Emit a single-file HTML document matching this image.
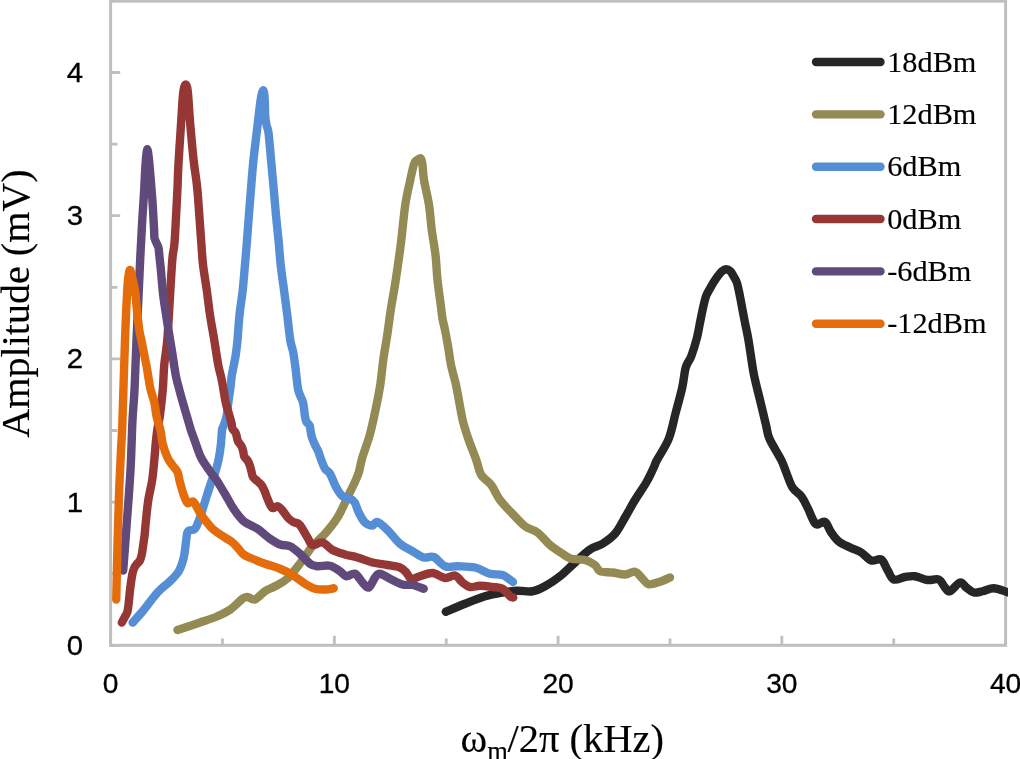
<!DOCTYPE html>
<html lang="en"><head><meta charset="utf-8"><title>Amplitude vs modulation frequency</title>
<style>html,body{margin:0;padding:0;background:#fff;}body{width:1020px;height:759px;overflow:hidden;}svg{display:block;}.tick{font-family:"Liberation Sans","DejaVu Sans",sans-serif;font-size:28.2px;fill:#000;stroke:#000;stroke-width:0.3px;}.ser{font-family:"Liberation Serif","DejaVu Serif",serif;fill:#000;stroke:#000;stroke-width:0.15px;}</style></head><body>
<svg width="1020" height="759" viewBox="0 0 1020 759">
<rect x="0" y="0" width="1020" height="759" fill="#fff"/>
<rect x="110.60" y="1.20" width="895.00" height="644.10" fill="none" stroke="#BFBFBF" stroke-width="3"/>
<path d="M110.60 645.30V635.70M222.47 645.30V638.50M334.35 645.30V635.70M446.23 645.30V638.50M558.10 645.30V635.70M669.98 645.30V638.50M781.85 645.30V635.70M893.73 645.30V638.50M1005.60 645.30V635.70M110.60 645.30H120.20M110.60 573.70H117.40M110.60 502.10H120.20M110.60 430.50H117.40M110.60 358.90H120.20M110.60 287.30H117.40M110.60 215.70H120.20M110.60 144.10H117.40M110.60 72.50H120.20" fill="none" stroke="#BFBFBF" stroke-width="2.8"/>
<defs><clipPath id="cp"><rect x="0" y="0" width="1008" height="759"/></clipPath></defs>
<g fill="none" stroke-width="8.4" stroke-linejoin="round">
<path stroke="#262626" stroke-linecap="round" clip-path="url(#cp)" d="M445.75 611.75C448.96 610.42 458.46 606.33 465.00 603.75C471.54 601.17 478.75 598.12 485.00 596.25C491.25 594.38 497.08 593.42 502.50 592.50C507.92 591.58 512.50 590.96 517.50 590.75C522.50 590.54 527.92 592.00 532.50 591.25C537.08 590.50 540.42 588.75 545.00 586.25C549.58 583.75 555.00 580.21 560.00 576.25C565.00 572.29 570.00 566.96 575.00 562.50C580.00 558.04 585.42 552.62 590.00 549.50C594.58 546.38 598.33 546.38 602.50 543.75C606.67 541.12 611.25 538.12 615.00 533.75C618.75 529.38 621.67 523.12 625.00 517.50C628.33 511.88 631.46 505.83 635.00 500.00C638.54 494.17 643.12 487.92 646.25 482.50C649.38 477.08 651.96 471.25 653.75 467.50C655.54 463.75 654.50 464.79 657.00 460.00C659.50 455.21 665.62 446.67 668.75 438.75C671.88 430.83 673.50 421.04 675.75 412.50C678.00 403.96 680.58 395.00 682.25 387.50C683.92 380.00 684.25 372.71 685.75 367.50C687.25 362.29 689.39 361.17 691.25 356.25C693.11 351.33 695.49 343.34 696.90 338.00C698.31 332.66 698.77 328.82 699.70 324.20C700.63 319.58 701.47 314.92 702.50 310.30C703.53 305.68 704.75 299.95 705.90 296.50C707.05 293.05 708.17 291.90 709.40 289.60C710.63 287.30 711.85 285.01 713.30 282.70C714.75 280.39 716.65 277.65 718.10 275.75C719.55 273.85 720.67 272.38 722.00 271.30C723.33 270.22 724.72 269.27 726.10 269.25C727.48 269.23 729.10 270.12 730.30 271.20C731.50 272.28 732.20 273.83 733.30 275.75C734.40 277.67 735.78 279.24 736.90 282.70C738.02 286.16 739.05 291.90 740.00 296.50C740.95 301.10 741.72 305.68 742.60 310.30C743.48 314.92 744.38 319.58 745.30 324.20C746.22 328.82 747.27 333.40 748.10 338.00C748.93 342.60 749.32 345.63 750.30 351.80C751.28 357.97 752.38 366.97 754.00 375.00C755.62 383.03 758.00 391.67 760.00 400.00C762.00 408.33 764.42 418.54 766.00 425.00C767.58 431.46 766.96 432.92 769.50 438.75C772.04 444.58 778.46 454.38 781.25 460.00C784.04 465.62 784.38 467.92 786.25 472.50C788.12 477.08 790.00 483.54 792.50 487.50C795.00 491.46 798.75 492.92 801.25 496.25C803.75 499.58 805.42 503.33 807.50 507.50C809.58 511.67 812.08 518.42 813.75 521.25C815.42 524.08 815.62 524.38 817.50 524.50C819.38 524.62 822.71 520.67 825.00 522.00C827.29 523.33 828.96 529.25 831.25 532.50C833.54 535.75 835.62 539.00 838.75 541.50C841.88 544.00 846.25 545.67 850.00 547.50C853.75 549.33 857.71 550.33 861.25 552.50C864.79 554.67 867.92 559.33 871.25 560.50C874.58 561.67 878.54 557.92 881.25 559.50C883.96 561.08 885.42 566.67 887.50 570.00C889.58 573.33 890.83 578.33 893.75 579.50C896.67 580.67 901.46 577.54 905.00 577.00C908.54 576.46 911.25 575.75 915.00 576.25C918.75 576.75 923.54 579.46 927.50 580.00C931.46 580.54 935.83 578.25 938.75 579.50C941.67 580.75 943.12 585.54 945.00 587.50C946.88 589.46 947.50 592.08 950.00 591.25C952.50 590.42 957.29 583.12 960.00 582.50C962.71 581.88 963.96 585.83 966.25 587.50C968.54 589.17 971.04 591.88 973.75 592.50C976.46 593.12 979.17 591.96 982.50 591.25C985.83 590.54 989.79 588.17 993.75 588.25C997.71 588.33 1003.21 590.88 1006.25 591.75C1009.29 592.62 1011.04 593.21 1012.00 593.50"/>
<path stroke="#948A54" stroke-linecap="round" d="M177.50 630.00C181.25 628.75 193.33 624.79 200.00 622.50C206.67 620.21 212.50 618.37 217.50 616.25C222.50 614.13 225.83 612.72 230.00 609.80C234.17 606.88 239.58 600.88 242.50 598.75C245.42 596.62 245.42 596.88 247.50 597.00C249.58 597.12 252.08 600.46 255.00 599.50C257.92 598.54 261.67 593.46 265.00 591.25C268.33 589.04 271.25 588.38 275.00 586.25C278.75 584.12 283.33 582.29 287.50 578.50C291.67 574.71 295.83 568.92 300.00 563.50C304.17 558.08 308.33 550.96 312.50 546.00C316.67 541.04 320.83 538.50 325.00 533.75C329.17 529.00 333.96 523.12 337.50 517.50C341.04 511.88 343.58 505.42 346.25 500.00C348.92 494.58 351.91 488.33 353.50 485.00C355.09 481.67 354.88 482.20 355.80 480.00C356.72 477.80 357.93 475.47 359.00 471.80C360.07 468.13 360.41 464.13 362.20 458.00C363.99 451.87 367.53 443.00 369.75 435.00C371.97 427.00 373.75 418.33 375.50 410.00C377.25 401.67 378.96 393.33 380.25 385.00C381.54 376.67 382.08 368.33 383.25 360.00C384.42 351.67 386.00 343.33 387.25 335.00C388.50 326.67 389.33 319.17 390.75 310.00C392.17 300.83 394.04 291.25 395.75 280.00C397.46 268.75 399.42 255.00 401.00 242.50C402.58 230.00 403.71 215.42 405.25 205.00C406.79 194.58 408.79 186.83 410.25 180.00C411.71 173.17 412.96 167.25 414.00 164.00C415.04 160.75 415.38 161.46 416.50 160.50C417.62 159.54 419.75 157.50 420.75 158.25C421.75 159.00 421.96 161.38 422.50 165.00C423.04 168.62 422.92 173.33 424.00 180.00C425.08 186.67 427.71 196.67 429.00 205.00C430.29 213.33 430.67 221.67 431.75 230.00C432.83 238.33 434.54 246.67 435.50 255.00C436.46 263.33 436.62 271.67 437.50 280.00C438.38 288.33 439.92 298.54 440.75 305.00C441.58 311.46 441.79 314.58 442.50 318.75C443.21 322.92 444.04 325.21 445.00 330.00C445.96 334.79 447.25 341.67 448.25 347.50C449.25 353.33 449.71 358.75 451.00 365.00C452.29 371.25 454.54 378.33 456.00 385.00C457.46 391.67 458.54 398.75 459.75 405.00C460.96 411.25 461.75 416.67 463.25 422.50C464.75 428.33 466.58 433.75 468.75 440.00C470.92 446.25 474.17 454.17 476.25 460.00C478.33 465.83 478.75 470.83 481.25 475.00C483.75 479.17 488.12 480.83 491.25 485.00C494.38 489.17 496.46 495.21 500.00 500.00C503.54 504.79 508.33 509.38 512.50 513.75C516.67 518.12 520.83 523.12 525.00 526.25C529.17 529.38 533.33 529.38 537.50 532.50C541.67 535.62 545.83 541.46 550.00 545.00C554.17 548.54 558.96 551.46 562.50 553.75C566.04 556.04 567.50 557.71 571.25 558.75C575.00 559.79 581.04 558.96 585.00 560.00C588.96 561.04 592.50 563.12 595.00 565.00C597.50 566.88 597.08 570.00 600.00 571.25C602.92 572.50 608.33 571.96 612.50 572.50C616.67 573.04 621.25 574.62 625.00 574.50C628.75 574.38 632.08 571.04 635.00 571.75C637.92 572.46 640.21 576.67 642.50 578.75C644.79 580.83 645.83 583.75 648.75 584.25C651.67 584.75 656.46 582.88 660.00 581.75C663.54 580.62 668.33 578.21 670.00 577.50"/>
<path stroke="#558ED5" stroke-linecap="round" d="M132.60 622.60C134.46 620.50 139.60 615.02 143.75 610.00C147.90 604.98 153.12 597.29 157.50 592.50C161.88 587.71 166.46 584.79 170.00 581.25C173.54 577.71 176.46 575.21 178.75 571.25C181.04 567.29 182.50 562.71 183.75 557.50C185.00 552.29 185.54 544.38 186.25 540.00C186.96 535.62 186.54 533.12 188.00 531.25C189.46 529.38 193.00 531.04 195.00 528.75C197.00 526.46 198.12 522.71 200.00 517.50C201.88 512.29 204.25 503.75 206.25 497.50C208.25 491.25 210.47 484.28 212.00 480.00C213.53 475.72 214.25 475.47 215.40 471.80C216.55 468.13 217.98 462.60 218.90 458.00C219.82 453.40 220.38 448.82 220.90 444.20C221.42 439.58 221.58 433.30 222.00 430.30C222.42 427.30 222.65 428.50 223.40 426.20C224.15 423.90 225.68 420.42 226.50 416.50C227.32 412.58 227.67 407.32 228.30 402.70C228.93 398.08 229.70 393.42 230.30 388.80C230.90 384.18 230.99 380.63 231.90 375.00C232.81 369.37 234.82 360.83 235.75 355.00C236.68 349.17 236.88 346.67 237.50 340.00C238.12 333.33 238.62 323.33 239.50 315.00C240.38 306.67 241.84 298.33 242.75 290.00C243.66 281.67 244.28 272.83 244.96 265.00C245.64 257.17 246.14 251.28 246.80 243.00C247.46 234.72 248.18 224.52 248.90 215.30C249.62 206.08 250.34 196.92 251.10 187.70C251.86 178.48 252.47 169.73 253.47 160.00C254.47 150.27 255.98 138.80 257.10 129.30C258.22 119.80 259.42 108.88 260.20 103.00C260.98 97.12 261.30 96.12 261.80 94.00C262.30 91.88 262.78 90.30 263.20 90.30C263.62 90.30 264.02 91.88 264.30 94.00C264.58 96.12 264.70 99.33 264.85 103.00C265.00 106.67 264.93 112.33 265.20 116.00C265.47 119.67 265.97 122.33 266.50 125.00C267.03 127.67 267.78 127.83 268.40 132.00C269.02 136.17 269.76 145.33 270.20 150.00C270.64 154.67 270.47 153.72 271.04 160.00C271.61 166.28 272.77 178.48 273.60 187.70C274.43 196.92 275.13 206.08 276.00 215.30C276.87 224.52 278.02 234.72 278.80 243.00C279.58 251.28 279.83 257.17 280.70 265.00C281.57 272.83 282.91 281.67 284.00 290.00C285.09 298.33 286.21 306.67 287.25 315.00C288.29 323.33 289.25 333.75 290.25 340.00C291.25 346.25 292.33 347.50 293.25 352.50C294.17 357.50 294.92 363.75 295.75 370.00C296.58 376.25 297.04 384.58 298.25 390.00C299.46 395.42 301.88 398.08 303.00 402.50C304.12 406.92 304.45 413.33 305.00 416.50C305.55 419.67 305.53 419.98 306.30 421.50C307.07 423.02 308.88 424.02 309.60 425.60C310.32 427.18 310.22 429.07 310.60 431.00C310.98 432.93 311.22 435.00 311.90 437.20C312.58 439.40 313.65 441.88 314.70 444.20C315.75 446.52 317.11 448.47 318.20 451.10C319.29 453.73 320.12 457.06 321.25 460.00C322.38 462.94 323.54 466.46 325.00 468.75C326.46 471.04 328.12 470.62 330.00 473.75C331.88 476.88 334.17 483.75 336.25 487.50C338.33 491.25 340.21 494.38 342.50 496.25C344.79 498.12 347.96 497.71 350.00 498.75C352.04 499.79 353.29 500.21 354.75 502.50C356.21 504.79 357.04 509.17 358.75 512.50C360.46 515.83 362.71 520.33 365.00 522.50C367.29 524.67 370.42 525.58 372.50 525.50C374.58 525.42 375.00 521.25 377.50 522.00C380.00 522.75 383.75 526.38 387.50 530.00C391.25 533.62 395.83 540.21 400.00 543.75C404.17 547.29 408.54 548.96 412.50 551.25C416.46 553.54 420.21 556.54 423.75 557.50C427.29 558.46 430.21 555.54 433.75 557.00C437.29 558.46 441.04 564.71 445.00 566.25C448.96 567.79 452.50 566.04 457.50 566.25C462.50 566.46 469.58 566.25 475.00 567.50C480.42 568.75 485.42 572.50 490.00 573.75C494.58 575.00 498.67 573.62 502.50 575.00C506.33 576.38 511.25 580.83 513.00 582.00"/>
<path stroke="#953735" stroke-linecap="round" d="M121.80 622.60C122.25 621.75 123.57 619.28 124.50 617.50C125.43 615.72 126.68 614.45 127.40 611.90C128.12 609.35 128.33 606.12 128.80 602.20C129.27 598.28 129.62 593.00 130.20 588.40C130.77 583.80 131.62 577.92 132.25 574.60C132.88 571.28 133.28 570.22 134.00 568.50C134.72 566.78 135.62 565.63 136.60 564.30C137.58 562.97 139.02 562.25 139.90 560.50C140.78 558.75 141.35 556.38 141.90 553.80C142.45 551.22 142.75 548.08 143.20 545.00C143.65 541.92 144.13 539.47 144.60 535.30C145.07 531.13 145.38 525.88 146.00 520.00C146.62 514.12 147.27 506.67 148.30 500.00C149.33 493.33 151.17 487.00 152.20 480.00C153.23 473.00 153.93 463.97 154.50 458.00C155.07 452.03 155.20 448.82 155.65 444.20C156.10 439.58 156.47 435.17 157.20 430.30C157.92 425.43 159.07 421.72 160.00 415.00C160.93 408.28 162.04 398.33 162.75 390.00C163.46 381.67 163.49 373.33 164.25 365.00C165.01 356.67 166.43 350.10 167.30 340.00C168.18 329.90 168.93 313.63 169.50 304.40C170.07 295.17 170.30 291.17 170.70 284.60C171.10 278.03 171.55 269.93 171.90 265.00C172.25 260.07 172.37 258.67 172.80 255.00C173.23 251.33 173.95 249.62 174.50 243.00C175.05 236.38 175.60 224.52 176.10 215.30C176.60 206.08 177.12 196.08 177.50 187.70C177.88 179.32 177.87 174.78 178.40 165.00C178.93 155.22 180.13 137.83 180.70 129.00C181.27 120.17 181.45 117.33 181.80 112.00C182.15 106.67 182.43 101.00 182.80 97.00C183.17 93.00 183.52 90.08 184.00 88.00C184.48 85.92 185.15 84.50 185.70 84.50C186.25 84.50 186.87 85.92 187.30 88.00C187.73 90.08 187.97 93.00 188.30 97.00C188.63 101.00 188.91 106.67 189.30 112.00C189.69 117.33 189.93 121.00 190.65 129.00C191.37 137.00 192.51 150.22 193.60 160.00C194.69 169.78 196.25 178.48 197.20 187.70C198.15 196.92 198.62 206.08 199.30 215.30C199.98 224.52 200.68 234.72 201.30 243.00C201.93 251.28 202.14 257.17 203.05 265.00C203.96 272.83 205.59 281.67 206.75 290.00C207.91 298.33 208.75 306.67 210.00 315.00C211.25 323.33 212.88 331.67 214.25 340.00C215.62 348.33 217.00 358.33 218.25 365.00C219.50 371.67 220.50 373.75 221.75 380.00C223.00 386.25 224.54 396.83 225.75 402.50C226.96 408.17 228.03 410.50 229.00 414.00C229.97 417.50 231.03 421.08 231.60 423.50C232.17 425.92 231.70 426.88 232.40 428.50C233.10 430.12 235.00 431.52 235.80 433.20C236.60 434.88 236.78 437.17 237.20 438.60C237.62 440.03 237.57 440.52 238.30 441.80C239.03 443.08 240.78 444.70 241.60 446.30C242.42 447.90 242.75 449.68 243.20 451.40C243.65 453.12 243.52 455.00 244.30 456.60C245.08 458.20 246.95 459.43 247.90 461.00C248.85 462.57 249.38 464.17 250.00 466.00C250.62 467.83 251.10 470.17 251.60 472.00C252.10 473.83 252.02 475.47 253.00 477.00C253.98 478.53 256.08 479.87 257.50 481.20C258.92 482.53 260.32 483.37 261.50 485.00C262.68 486.63 263.68 488.92 264.60 491.00C265.52 493.08 266.18 495.42 267.00 497.50C267.82 499.58 268.67 501.78 269.50 503.50C270.33 505.22 271.17 507.12 272.00 507.80C272.83 508.48 273.55 507.87 274.50 507.60C275.45 507.33 276.47 505.85 277.70 506.20C278.93 506.55 280.17 507.73 281.90 509.70C283.63 511.67 286.15 515.92 288.10 518.00C290.05 520.08 291.70 521.10 293.60 522.20C295.50 523.30 297.18 522.05 299.50 524.60C301.82 527.15 305.33 534.10 307.50 537.50C309.67 540.90 310.00 544.17 312.50 545.00C315.00 545.83 319.17 541.67 322.50 542.50C325.83 543.33 328.75 548.00 332.50 550.00C336.25 552.00 340.83 553.25 345.00 554.50C349.17 555.75 352.92 556.17 357.50 557.50C362.08 558.83 367.50 561.25 372.50 562.50C377.50 563.75 382.92 564.17 387.50 565.00C392.08 565.83 396.88 566.25 400.00 567.50C403.12 568.75 404.38 570.62 406.25 572.50C408.12 574.38 408.96 578.12 411.25 578.75C413.54 579.38 416.46 577.21 420.00 576.25C423.54 575.29 428.33 572.71 432.50 573.00C436.67 573.29 441.25 577.58 445.00 578.00C448.75 578.42 452.08 574.75 455.00 575.50C457.92 576.25 460.00 580.58 462.50 582.50C465.00 584.42 467.08 586.46 470.00 587.00C472.92 587.54 476.25 585.75 480.00 585.75C483.75 585.75 488.75 586.50 492.50 587.00C496.25 587.50 499.58 587.21 502.50 588.75C505.42 590.29 508.21 594.79 510.00 596.25C511.79 597.71 512.71 597.29 513.25 597.50"/>
<path stroke="#604A7B" stroke-linecap="round" d="M123.20 570.50C123.83 562.08 125.78 536.75 127.00 520.00C128.22 503.25 129.58 486.67 130.50 470.00C131.42 453.33 131.83 433.33 132.50 420.00C133.17 406.67 133.83 403.33 134.50 390.00C135.17 376.67 135.78 356.67 136.50 340.00C137.22 323.33 138.18 303.50 138.80 290.00C139.42 276.50 139.80 267.33 140.20 259.00C140.60 250.67 140.85 246.58 141.20 240.00C141.55 233.42 141.83 227.33 142.30 219.50C142.77 211.67 143.52 201.33 144.00 193.00C144.48 184.67 144.83 175.60 145.20 169.50C145.57 163.40 145.85 159.80 146.20 156.40C146.55 153.00 146.90 149.10 147.30 149.10C147.70 149.10 148.17 153.00 148.60 156.40C149.03 159.80 149.37 163.40 149.90 169.50C150.43 175.60 151.32 186.85 151.80 193.00C152.28 199.15 152.40 199.90 152.80 206.40C153.20 212.90 153.90 226.65 154.20 232.00C154.50 237.35 153.92 236.00 154.60 238.50C155.28 241.00 157.57 244.75 158.30 247.00C159.03 249.25 158.78 250.17 159.00 252.00C159.22 253.83 159.28 255.00 159.60 258.00C159.92 261.00 160.47 265.50 160.90 270.00C161.33 274.50 161.77 280.38 162.20 285.00C162.63 289.62 162.58 290.98 163.50 297.70C164.42 304.42 166.24 316.08 167.70 325.30C169.16 334.52 170.92 344.72 172.25 353.00C173.58 361.28 174.64 369.33 175.70 375.00C176.76 380.67 177.40 382.38 178.60 387.00C179.80 391.62 181.58 398.03 182.90 402.70C184.22 407.37 185.23 410.66 186.50 415.00C187.77 419.34 189.42 425.25 190.50 428.75C191.58 432.25 192.08 433.43 193.00 436.00C193.92 438.57 194.62 440.53 196.00 444.20C197.38 447.87 198.92 453.40 201.30 458.00C203.68 462.60 207.77 468.13 210.30 471.80C212.83 475.47 214.05 476.30 216.50 480.00C218.95 483.70 222.12 489.17 225.00 494.00C227.88 498.83 230.58 504.42 233.75 509.00C236.92 513.58 240.04 518.21 244.00 521.50C247.96 524.79 253.17 525.88 257.50 528.75C261.83 531.62 266.25 536.12 270.00 538.75C273.75 541.38 276.67 543.25 280.00 544.50C283.33 545.75 286.67 544.71 290.00 546.25C293.33 547.79 296.67 550.83 300.00 553.75C303.33 556.67 307.08 561.67 310.00 563.75C312.92 565.83 314.17 565.92 317.50 566.25C320.83 566.58 326.25 564.92 330.00 565.75C333.75 566.58 337.29 569.50 340.00 571.25C342.71 573.00 343.75 575.83 346.25 576.25C348.75 576.67 352.29 572.71 355.00 573.75C357.71 574.79 360.21 580.21 362.50 582.50C364.79 584.79 366.67 588.33 368.75 587.50C370.83 586.67 373.12 579.79 375.00 577.50C376.88 575.21 377.50 573.54 380.00 573.75C382.50 573.96 386.25 576.96 390.00 578.75C393.75 580.54 398.75 583.46 402.50 584.50C406.25 585.54 408.96 584.29 412.50 585.00C416.04 585.71 421.88 588.12 423.75 588.75"/>
<path stroke="#E46C0A" stroke-linecap="round" d="M116.25 599.50C116.46 590.42 117.04 562.42 117.50 545.00C117.96 527.58 118.42 510.83 119.00 495.00C119.58 479.17 120.45 461.67 121.00 450.00C121.55 438.33 121.63 443.33 122.30 425.00C122.97 406.67 124.17 362.50 125.00 340.00C125.83 317.50 126.65 300.83 127.25 290.00C127.85 279.17 128.14 278.33 128.60 275.00C129.06 271.67 129.50 270.00 130.00 270.00C130.50 270.00 130.78 271.67 131.60 275.00C132.42 278.33 134.02 284.28 134.90 290.00C135.78 295.72 136.14 302.63 136.87 309.30C137.60 315.97 138.48 324.55 139.30 330.00C140.12 335.45 141.03 338.17 141.80 342.00C142.57 345.83 143.09 348.87 143.90 353.00C144.71 357.13 145.97 363.13 146.66 366.80C147.35 370.47 147.42 371.33 148.04 375.00C148.66 378.67 149.34 384.18 150.40 388.80C151.46 393.42 153.37 398.08 154.40 402.70C155.43 407.32 155.58 411.90 156.60 416.50C157.62 421.10 159.47 425.68 160.50 430.30C161.53 434.92 161.60 439.58 162.80 444.20C164.00 448.82 166.13 454.55 167.70 458.00C169.27 461.45 170.58 462.60 172.20 464.90C173.82 467.20 176.20 469.28 177.40 471.80C178.60 474.32 178.85 477.80 179.40 480.00C179.95 482.20 179.97 482.50 180.70 485.00C181.42 487.50 182.62 492.00 183.75 495.00C184.88 498.00 185.96 501.92 187.50 503.00C189.04 504.08 191.25 500.50 193.00 501.50C194.75 502.50 196.62 506.75 198.00 509.00C199.38 511.25 198.83 511.71 201.25 515.00C203.67 518.29 208.54 525.00 212.50 528.75C216.46 532.50 221.75 535.29 225.00 537.50C228.25 539.71 230.02 540.45 232.00 542.00C233.98 543.55 234.94 544.68 236.90 546.80C238.86 548.92 241.15 552.71 243.75 554.70C246.35 556.69 248.96 557.24 252.50 558.75C256.04 560.26 260.42 562.08 265.00 563.75C269.58 565.42 275.42 566.88 280.00 568.75C284.58 570.62 288.33 572.50 292.50 575.00C296.67 577.50 301.25 581.46 305.00 583.75C308.75 586.04 311.67 587.79 315.00 588.75C318.33 589.71 321.88 589.58 325.00 589.50C328.12 589.42 332.29 588.46 333.75 588.25"/>
</g>
<g fill="none" stroke-width="8.4" stroke-linecap="round">
<path stroke="#262626" d="M816 62.00H880.5"/>
<path stroke="#948A54" d="M816 114.35H880.5"/>
<path stroke="#558ED5" d="M816 166.70H880.5"/>
<path stroke="#953735" d="M816 219.05H880.5"/>
<path stroke="#604A7B" d="M816 271.40H880.5"/>
<path stroke="#E46C0A" d="M816 323.75H880.5"/>
</g>
<g class="ser" font-size="30.3">
<text x="887.2" y="71.50">18dBm</text>
<text x="887.2" y="123.85">12dBm</text>
<text x="887.2" y="176.20">6dBm</text>
<text x="887.2" y="228.55">0dBm</text>
<text x="887.2" y="280.90">-6dBm</text>
<text x="887.2" y="333.25">-12dBm</text>
</g>
<g class="tick">
<text transform="translate(110.60 693.3) scale(1.000 1)" text-anchor="middle">0</text>
<text transform="translate(334.35 693.3) scale(1.000 1)" text-anchor="middle">10</text>
<text transform="translate(558.10 693.3) scale(1.000 1)" text-anchor="middle">20</text>
<text transform="translate(781.85 693.3) scale(1.000 1)" text-anchor="middle">30</text>
<text transform="translate(1005.60 693.3) scale(1.000 1)" text-anchor="middle">40</text>
<text transform="translate(83.0 654.80) scale(1.040 1)" text-anchor="end">0</text>
<text transform="translate(83.0 511.60) scale(1.040 1)" text-anchor="end">1</text>
<text transform="translate(83.0 368.40) scale(1.040 1)" text-anchor="end">2</text>
<text transform="translate(83.0 225.20) scale(1.040 1)" text-anchor="end">3</text>
<text transform="translate(83.0 82.00) scale(1.040 1)" text-anchor="end">4</text>
</g>
<text class="ser" font-size="40.5" y="752.3"><tspan x="460.6">ω</tspan><tspan x="487.2" dy="8" font-size="26.5">m</tspan><tspan x="507.4" dy="-8">/2π (kHz)</tspan></text>
<text class="ser" font-size="40.1" transform="translate(28.9 303.5) rotate(-90)" text-anchor="middle">Amplitude (mV)</text>
</svg></body></html>
